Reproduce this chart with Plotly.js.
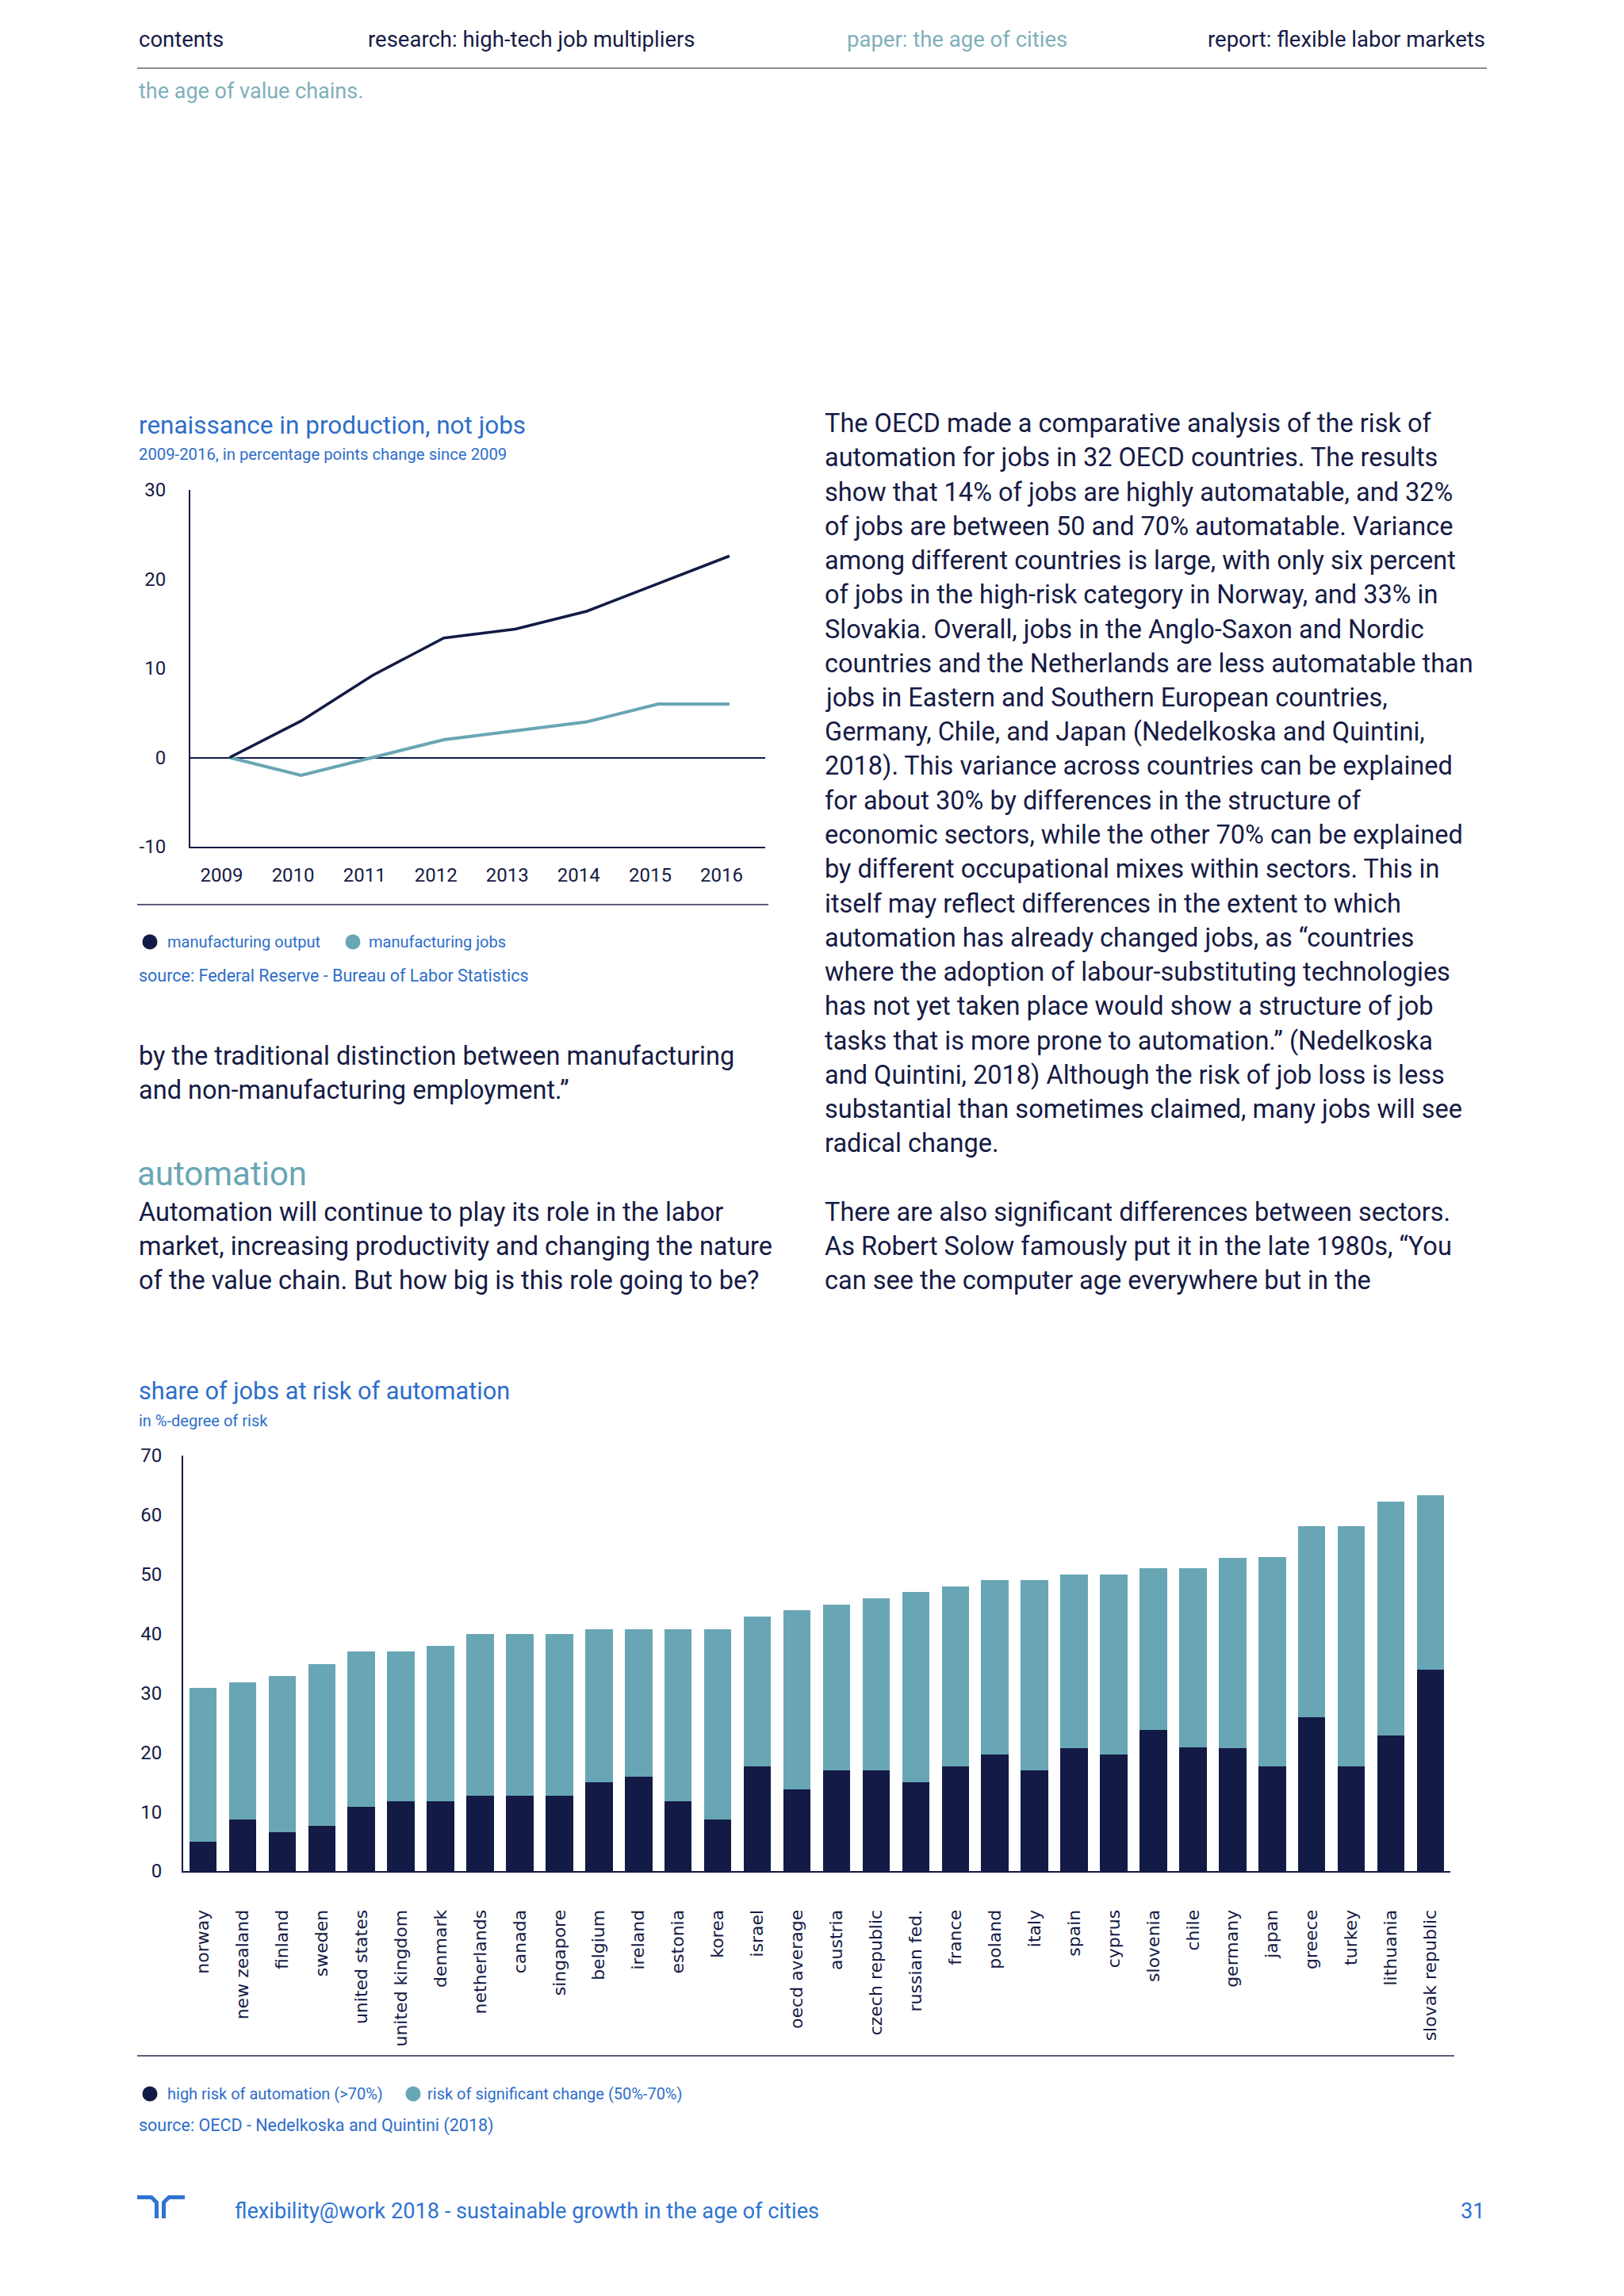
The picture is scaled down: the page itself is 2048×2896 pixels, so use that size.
<!DOCTYPE html>
<html><head><meta charset="utf-8">
<script src="https://cdn.plot.ly/plotly-3.0.1.min.js"></script>
<style>html,body{margin:0;padding:0;background:#ffffff}</style>
</head><body>
<div id="chart" style="width:2048px;height:2896px"></div>
<script>
// ---------- data ----------
const years = [2009, 2010, 2011, 2012, 2013, 2014, 2015, 2016];
const manufacturingOutput = [0, 4.1, 9.2, 13.4, 14.4, 16.4, 19.5, 22.6];
const manufacturingJobs = [0, -2, 0, 2, 3, 4, 6, 6];
const lineYTicks = [-10, 0, 10, 20, 30];
const lineYTickText = ["-10", "0", "10", "20", "30"];

const countries = ["norway","new zealand","finland","sweden","united states","united kingdom","denmark","netherlands","canada","singapore","belgium","ireland","estonia","korea","israel","oecd average","austria","czech republic","russian fed.","france","poland","italy","spain","cyprus","slovenia","chile","germany","japan","greece","turkey","lithuania","slovak republic"];
const highRisk = [4.9, 8.7, 6.6, 7.6, 10.8, 11.7, 11.7, 12.7, 12.7, 12.7, 14.9, 15.9, 11.7, 8.7, 17.6, 13.8, 17.0, 16.9, 14.9, 17.6, 19.7, 17.0, 20.7, 19.7, 23.8, 20.8, 20.7, 17.6, 25.9, 17.6, 22.8, 33.9];
const significantChange = [25.9, 23.1, 26.3, 27.3, 26.2, 25.3, 26.3, 27.3, 27.3, 27.3, 25.9, 24.9, 29.1, 32.1, 25.3, 30.1, 27.9, 29.0, 32.1, 30.4, 29.3, 32.0, 29.3, 30.3, 27.2, 30.2, 32.1, 35.3, 32.2, 40.5, 39.4, 29.4];
const barYTicks = [0, 10, 20, 30, 40, 50, 60, 70];

const headerItems = ["contents", "research: high-tech job multipliers", "paper: the age of cities", "report: flexible labor markets"];

const rightColumn = [
 "The OECD made a comparative analysis of the risk of",
 "automation for jobs in 32 OECD countries. The results",
 "show that 14% of jobs are highly automatable, and 32%",
 "of jobs are between 50 and 70% automatable. Variance",
 "among different countries is large, with only six percent",
 "of jobs in the high-risk category in Norway, and 33% in",
 "Slovakia. Overall, jobs in the Anglo-Saxon and Nordic",
 "countries and the Netherlands are less automatable than",
 "jobs in Eastern and Southern European countries,",
 "Germany, Chile, and Japan (Nedelkoska and Quintini,",
 "2018). This variance across countries can be explained",
 "for about 30% by differences in the structure of",
 "economic sectors, while the other 70% can be explained",
 "by different occupational mixes within sectors. This in",
 "itself may reflect differences in the extent to which",
 "automation has already changed jobs, as \u201ccountries",
 "where the adoption of labour-substituting technologies",
 "has not yet taken place would show a structure of job",
 "tasks that is more prone to automation.\u201d (Nedelkoska",
 "and Quintini, 2018) Although the risk of job loss is less",
 "substantial than sometimes claimed, many jobs will see",
 "radical change."
];
const rightColumn2 = [
 "There are also significant differences between sectors.",
 "As Robert Solow famously put it in the late 1980s, \u201cYou",
 "can see the computer age everywhere but in the"
];
const leftColumn1 = [
 "by the traditional distinction between manufacturing",
 "and non-manufacturing employment.\u201d"
];
const leftColumn2 = [
 "Automation will continue to play its role in the labor",
 "market, increasing productivity and changing the nature",
 "of the value chain. But how big is this role going to be?"
];

// ---------- styling ----------
const W = 2048, H = 2896;
const fx = x => x / W;
const fy = y => 1 - y / H;
const NAVY = "#121a45";
const TEAL = "#69a6b5";
const BLUE = "#2e6ec9";
const TEXT = "#161b45";
const FONT = "Roboto, 'Noto Sans', sans-serif";
const TICKFONT = "'DejaVu Sans', 'Liberation Sans', sans-serif";
const BODY = 32.5;

const annotations = [];
function txt(x, y, text, size, color, anchor) {
  annotations.push({
    xref: "paper", yref: "paper", x: fx(x), y: fy(y),
    xanchor: anchor || "left", yanchor: "middle",
    text: text, showarrow: false,
    font: {family: FONT, size: size, color: color}
  });
}

// header
txt(173, 49, headerItems[0], 27.5, TEXT);
txt(462, 49, headerItems[1], 27.5, TEXT);
txt(1066, 49, headerItems[2], 27.5, "#7fb0ba");
txt(1875, 49, headerItems[3], 27.5, TEXT, "right");
txt(173, 115, "the age of value chains.", 27, "#7fb0ba");

// line chart titles
txt(173, 536, "renaissance in production, not jobs", 31.5, BLUE);
txt(173, 573, "2009-2016, in percentage points change since 2009", 20.3, BLUE);
txt(209, 1188, "manufacturing output", 20, BLUE);
txt(463, 1188, "manufacturing jobs", 20, BLUE);
txt(173, 1230, "source: Federal Reserve - Bureau of Labor Statistics", 21.5, BLUE);

// left column body
leftColumn1.forEach((l, i) => txt(173, 1332 + i * 43.2, l, BODY, TEXT));
txt(171, 1480, "automation", 42, TEAL);
leftColumn2.forEach((l, i) => txt(173, 1529 + i * 43.2, l, BODY, TEXT));

// right column body
rightColumn.forEach((l, i) => txt(1038, 534 + i * 43.25, l, BODY, TEXT));
rightColumn2.forEach((l, i) => txt(1038, 1529 + i * 43.2, l, BODY, TEXT));

// bar chart titles
txt(173, 1755, "share of jobs at risk of automation", 30.7, BLUE);
txt(173, 1792, "in %-degree of risk", 20, BLUE);
txt(209, 2641, "high risk of automation (>70%)", 20, BLUE);
txt(537, 2641, "risk of significant change (50%-70%)", 20, BLUE);
txt(173, 2681, "source: OECD - Nedelkoska and Quintini (2018)", 21.5, BLUE);

// footer
txt(294, 2789, "flexibility@work 2018 - sustainable growth in the age of cities", 27.2, "#2f74d0");
txt(1875, 2789, "31", 27.2, "#2f74d0", "right");

// shapes
const shapes = [];
function hline(x0, x1, y, color, w) {
  shapes.push({type: "line", xref: "paper", yref: "paper", x0: fx(x0), x1: fx(x1), y0: fy(y), y1: fy(y), line: {color: color, width: w}});
}
function dot(cx, cy, r, color) {
  shapes.push({type: "circle", xref: "paper", yref: "paper", x0: fx(cx - r), x1: fx(cx + r), y0: fy(cy + r), y1: fy(cy - r), fillcolor: color, line: {width: 0}});
}
hline(173, 1875, 86, "#8c8c8c", 2);
hline(173, 969, 1141, "#5a5e7c", 2);
hline(173, 1834, 2593, "#5a5e7c", 2);
dot(189, 1188, 9.5, NAVY);
dot(445, 1188, 9.5, TEAL);
dot(189, 2641, 9.5, NAVY);
dot(521, 2641, 9.5, TEAL);

// logo (two mirrored hooks)
function logoPath(pts) {
  let s = "";
  pts.forEach(p => {
    if (p[0] === "Z") { s += " Z"; return; }
    const coords = [];
    for (let i = 1; i < p.length; i += 2) coords.push(fx(p[i]).toFixed(5) + "," + fy(p[i + 1]).toFixed(5));
    s += " " + p[0] + coords.join(" ");
  });
  return s.trim();
}
shapes.push({type: "path", xref: "paper", yref: "paper", fillcolor: "#2f74d0", line: {width: 0},
  path: logoPath([["M",173,2769],["L",192,2769],["L",200,2777],["L",200,2798],["L",195,2798],["L",195,2779],["L",190,2774],["L",173,2774],["Z"]])});
shapes.push({type: "path", xref: "paper", yref: "paper", fillcolor: "#2f74d0", line: {width: 0},
  path: logoPath([["M",233,2769],["L",212,2769],["L",204,2777],["L",204,2798],["L",209,2798],["L",209,2779],["L",214,2774],["L",233,2774],["Z"]])});

// ---------- traces ----------
const traces = [
  {x: years, y: manufacturingJobs, type: "scatter", mode: "lines", line: {color: TEAL, width: 4}, xaxis: "x", yaxis: "y", name: "manufacturing jobs"},
  {x: years, y: manufacturingOutput, type: "scatter", mode: "lines", line: {color: NAVY, width: 3.5}, xaxis: "x", yaxis: "y", name: "manufacturing output"},
  {x: countries, y: highRisk, type: "bar", marker: {color: NAVY, line: {width: 0}}, xaxis: "x2", yaxis: "y2", name: "high risk of automation (>70%)"},
  {x: countries, y: significantChange, type: "bar", marker: {color: TEAL, line: {width: 0}}, xaxis: "x2", yaxis: "y2", name: "risk of significant change (50%-70%)"}
];

const layout = {
  width: W, height: H,
  margin: {l: 0, r: 0, t: 0, b: 0, pad: 0},
  paper_bgcolor: "#ffffff", plot_bgcolor: "rgba(0,0,0,0)",
  showlegend: false,
  barmode: "stack", bargap: 0.31,
  xaxis: {
    domain: [fx(240), fx(965)], anchor: "y", range: [2008.45, 2016.5],
    tickvals: years, ticktext: years.map(String),
    showgrid: false, zeroline: false, showline: true, linecolor: NAVY, linewidth: 2,
    ticks: "", ticklabelstandoff: 13, ticklabelshift: -10,
    tickfont: {family: FONT, size: 24, color: TEXT}
  },
  yaxis: {
    domain: [fy(1068), fy(618)], anchor: "x", range: [-10, 30],
    tickvals: lineYTicks, ticktext: lineYTickText, showgrid: false,
    zeroline: true, zerolinecolor: NAVY, zerolinewidth: 2,
    showline: true, linecolor: NAVY, linewidth: 2,
    ticks: "", ticklabelstandoff: 24,
    tickfont: {family: FONT, size: 24, color: TEXT}
  },
  xaxis2: {
    domain: [fx(231), fx(1829)], anchor: "y2", range: [-0.5, 31.5],
    type: "category", tickangle: -90,
    showgrid: false, zeroline: false, showline: true, linecolor: NAVY, linewidth: 2,
    ticks: "", ticklabelstandoff: 38,
    tickfont: {family: TICKFONT, size: 22, color: TEXT}
  },
  yaxis2: {
    domain: [fy(2360), fy(1836)], anchor: "x2", range: [0, 70],
    tickvals: barYTicks, showgrid: false, zeroline: false,
    showline: true, linecolor: NAVY, linewidth: 2,
    ticks: "", ticklabelstandoff: 20,
    tickfont: {family: FONT, size: 24, color: TEXT}
  },
  annotations: annotations,
  shapes: shapes
};

Plotly.newPlot("chart", traces, layout, {staticPlot: true, displayModeBar: false});
</script>
</body></html>
